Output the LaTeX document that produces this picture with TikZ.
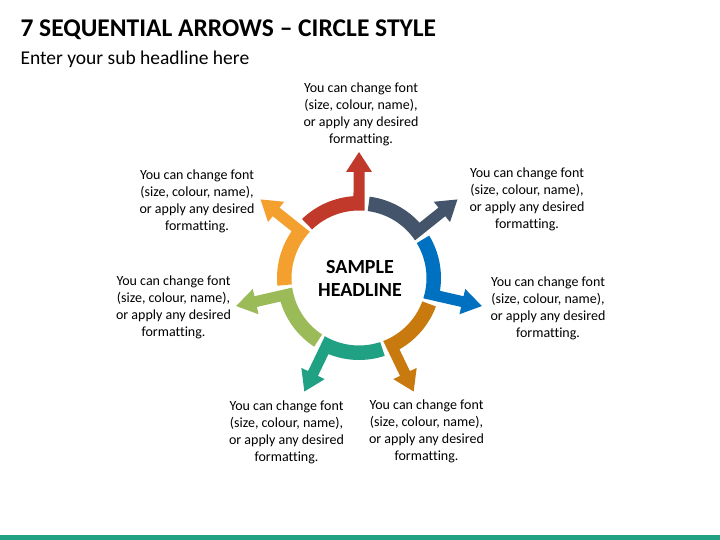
\documentclass[tikz,border=0pt]{standalone}
\usepackage{xcolor}
\usepackage{fontspec}
\setmainfont{Carlito}[Ligatures=CommonOff]
\usepackage{tikz}

\definecolor{segRed}{RGB}{192,57,43}
\definecolor{segSlate}{RGB}{68,84,106}
\definecolor{segBlue}{RGB}{0,112,192}
\definecolor{segBrown}{RGB}{200,122,14}
\definecolor{segTeal}{RGB}{32,161,132}
\definecolor{segGreen}{RGB}{155,187,89}
\definecolor{segOrange}{RGB}{243,160,46}

% one ring segment with its arrow, turned to angle #1
\newcommand{\seqarrow}[2]{%
\fill[#2, shift={(359,262)}, rotate=#1] (44:67.5) arc[start angle=44, end angle=-4.68, radius=67.5] -- (106,-5.5) -- (106,-13) -- (126,0) -- (106,13) -- (106,5.5) -- (3.85:82) arc[start angle=3.85, end angle=44, radius=82] -- cycle;}

\tikzset{
  txt/.style={align=center, font=\fontsize{14}{17}\selectfont},
}

\begin{document}
\begin{tikzpicture}[x=1pt,y=1pt]
\useasboundingbox (0,0) rectangle (720,540);
%title
\node[anchor=base west, font=\fontsize{25.5}{30}\selectfont\bfseries] (title) at (17,503) {7 SEQUENTIAL ARROWS – CIRCLE STYLE};
\node[anchor=base west, font=\fontsize{19.5}{23}\selectfont] (subtitle) at (17,475) {Enter your sub headline here};
%arrows
\seqarrow{90}{segRed}
\seqarrow{38.57}{segSlate}
\seqarrow{-12.86}{segBlue}
\seqarrow{-64.29}{segBrown}
\seqarrow{-115.71}{segTeal}
\seqarrow{-167.14}{segGreen}
\seqarrow{141.43}{segOrange}
%centre
\node[align=center, font=\fontsize{20}{23}\selectfont\bfseries] (headline) at (360,262) {SAMPLE\\HEADLINE};
%Text
\node[txt] (txtTop) at (361,425.5) {You can change font\\(size, colour, name),\\or apply any desired\\formatting.};
\node[txt] (txtTopRight) at (527,340.5) {You can change font\\(size, colour, name),\\or apply any desired\\formatting.};
\node[txt] (txtRight) at (548,232) {You can change font\\(size, colour, name),\\or apply any desired\\formatting.};
\node[txt] (txtBotRight) at (426.5,109) {You can change font\\(size, colour, name),\\or apply any desired\\formatting.};
\node[txt] (txtBotLeft) at (286.5,108) {You can change font\\(size, colour, name),\\or apply any desired\\formatting.};
\node[txt] (txtLeft) at (173.5,233) {You can change font\\(size, colour, name),\\or apply any desired\\formatting.};
\node[txt] (txtTopLeft) at (197,338.5) {You can change font\\(size, colour, name),\\or apply any desired\\formatting.};
%bar
\fill[segTeal] (0,0) rectangle (720,5);
\end{tikzpicture}
\end{document}
